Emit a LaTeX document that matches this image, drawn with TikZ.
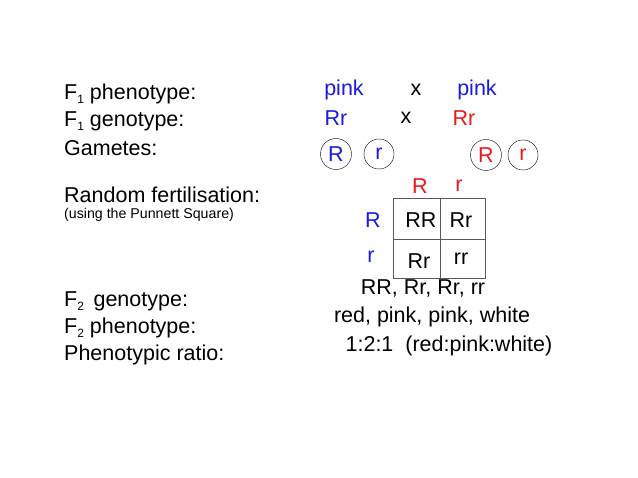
\documentclass[tikz,border=0pt]{standalone}
\usepackage{fontspec}
\setmainfont{Liberation Sans}
\definecolor{bl}{RGB}{25,25,225}
\definecolor{rd}{RGB}{235,25,25}
\newcommand{\sbs}[1]{\raisebox{-0.35ex}{\fontsize{12}{12}\selectfont #1}}
\begin{document}
\begin{tikzpicture}[x=1pt,y=-1pt,
  t/.style={font=\fontsize{21.5}{24}\selectfont, inner sep=0pt},
  lt/.style={t, anchor=west},
  gam/.style={circle, draw, minimum size=31pt, inner sep=0pt, font=\fontsize{21.5}{24}\selectfont}]
\useasboundingbox (0,0) rectangle (638,478);
\node[lt] (a1) at (64,94) {F\sbs{1} phenotype:};
\node[lt] (a2) at (64,121) {F\sbs{1} genotype:};
\node[lt] (a3) at (64,148) {Gametes:};
\node[lt] (a4) at (64,195) {Random fertilisation:};
\node[lt, font=\fontsize{14.2}{16}\selectfont] (a5) at (64,215) {(using the Punnett Square)};
\node[lt] (a6) at (64,301) {F\sbs{2}\, genotype:};
\node[lt] (a7) at (64,328) {F\sbs{2} phenotype:};
\node[lt] (a8) at (64,355) {Phenotypic ratio:};
\node[t, text=bl] (p1) at (344,90) {pink};
\node[t] (x1) at (416,90) {x};
\node[t, text=bl] (p2) at (477,90) {pink};
\node[t, text=bl] (g1) at (336,118) {Rr};
\node[t] (x2) at (406,118) {x};
\node[t, text=rd] (g2) at (464,118) {Rr};
\node[gam, text=bl] (c1) at (336,154) {R};
\node[gam, text=bl, minimum size=30pt] (c2) at (379,154) {r};
\node[gam, text=rd] (c3) at (486,155) {R};
\node[gam, text=rd, minimum size=30pt] (c4) at (523,155) {r};
\node[t, text=rd] (h1) at (420,186) {R};
\node[t, text=rd] (h2) at (459,186) {r};
\node[t, text=bl] (r1) at (373,220) {R};
\node[t, text=bl] (r2) at (371,257) {r};
\draw[gray!70!black, line width=0.8pt] (393,198) rectangle (485,278);
\draw[gray!70!black, line width=0.8pt] (440,198) -- (440,278) (393,239) -- (485,239);
\node[t] (s1) at (421,220) {RR};
\node[t] (s2) at (461,220) {Rr};
\node[t] (s3) at (419,261) {Rr};
\node[t] (s4) at (461,259) {rr};
\node[t] (f1) at (423,288) {RR, Rr, Rr, rr};
\node[t] (f2) at (432,317) {red, pink, pink, white};
\node[t] (f3) at (449,346) {1:2:1\ \ (red:pink:white)};
\end{tikzpicture}
\end{document}
